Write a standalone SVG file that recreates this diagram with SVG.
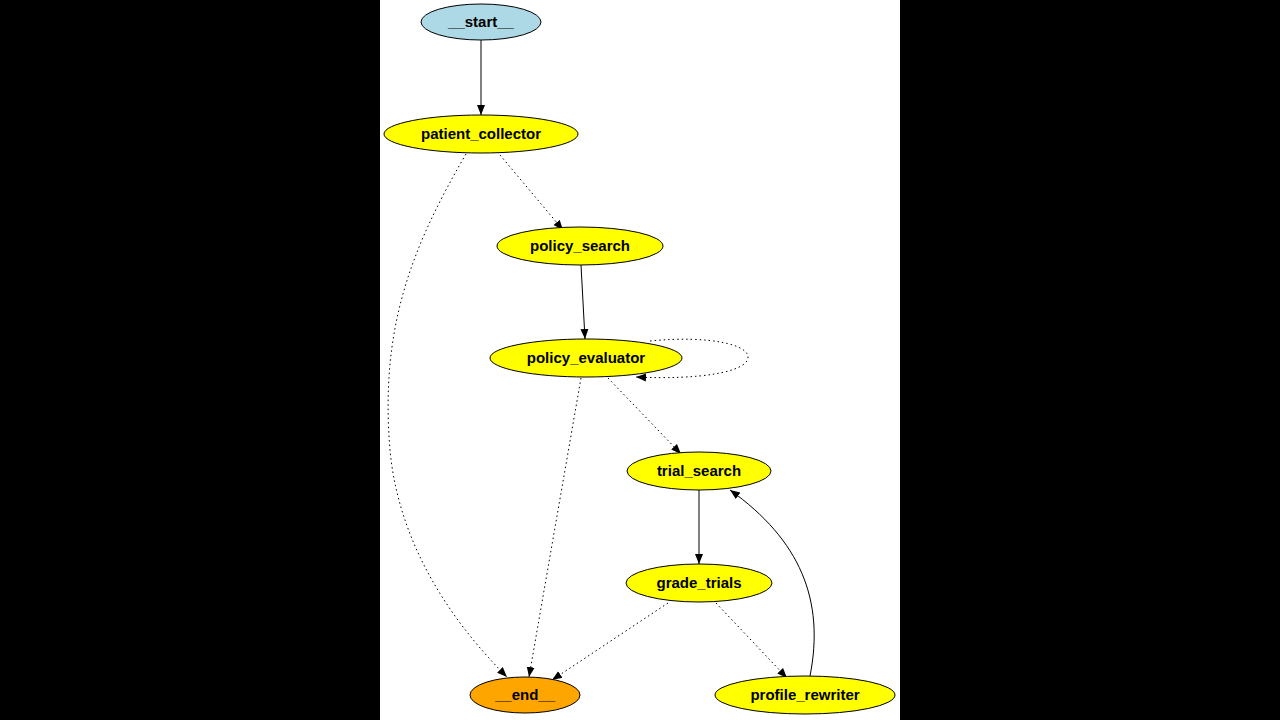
<svg xmlns="http://www.w3.org/2000/svg" width="1280" height="720" viewBox="0 0 1280 720">
<style>
.n{stroke:#000;stroke-width:1}
.t{font-family:"Liberation Sans",Arial,sans-serif;font-size:15px;font-weight:bold;text-anchor:middle;fill:#000}
.e{fill:none;stroke:#000;stroke-width:1;marker-end:url(#a)}
.d{stroke-dasharray:1.5 3}
</style>
<defs><marker id="a" viewBox="0 0 10 10" refX="10" refY="5" markerWidth="10" markerHeight="10" markerUnits="userSpaceOnUse" orient="auto"><path d="M0,1 L10,5 L0,9 Z" fill="#000"/></marker></defs>
<rect width="1280" height="720" fill="#000"/>
<rect x="380" y="0" width="520" height="720" fill="#fff"/>
<g id="edges">
<path class="e" d="M481,40 L481,115"/>
<path class="e d" d="M500,155 L563,230"/>
<path class="e d" d="M466,154 C410,250 380,330 390,450 C400,560 470,640 507,677"/>
<path class="e" d="M581,265 L585,339"/>
<path class="e d" d="M650,341 C710,335 750,345 748,358 C746,372 700,380 636,377"/>
<path class="e d" d="M581,378 L529,677"/>
<path class="e d" d="M608,378 L681,454"/>
<path class="e" d="M699,490 L699,564"/>
<path class="e d" d="M668,603 L552,680"/>
<path class="e d" d="M716,603 L787,678"/>
<path class="e" d="M810,676 C825,600 800,540 730,490"/>
</g>
<g id="start"><ellipse class="n" cx="481" cy="22" rx="60" ry="18" fill="#add8e6"/><text class="t" x="481" y="27">__start__</text></g>
<g id="patient_collector"><ellipse class="n" cx="481" cy="134" rx="97" ry="19" fill="#ffff00"/><text class="t" x="481" y="139">patient_collector</text></g>
<g id="policy_search"><ellipse class="n" cx="580" cy="246" rx="83" ry="19" fill="#ffff00"/><text class="t" x="580" y="251">policy_search</text></g>
<g id="policy_evaluator"><ellipse class="n" cx="586" cy="358" rx="96" ry="19" fill="#ffff00"/><text class="t" x="586" y="363">policy_evaluator</text></g>
<g id="trial_search"><ellipse class="n" cx="699" cy="471" rx="72" ry="19" fill="#ffff00"/><text class="t" x="699" y="476">trial_search</text></g>
<g id="grade_trials"><ellipse class="n" cx="699" cy="583" rx="73" ry="19" fill="#ffff00"/><text class="t" x="699" y="588">grade_trials</text></g>
<g id="end"><ellipse class="n" cx="525" cy="695" rx="55" ry="18" fill="#ffa500"/><text class="t" x="525" y="700">__end__</text></g>
<g id="profile_rewriter"><ellipse class="n" cx="805" cy="695" rx="90" ry="19" fill="#ffff00"/><text class="t" x="805" y="700">profile_rewriter</text></g>
</svg>
